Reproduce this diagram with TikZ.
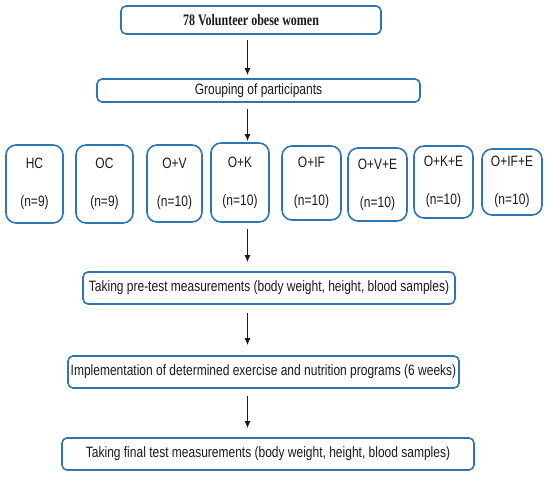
\documentclass[tikz,border=0pt]{standalone}
\usepackage{fontspec}
\setmainfont[FakeStretch=0.8]{Liberation Sans}
\newfontfamily\headfont{Liberation Serif}
\usetikzlibrary{arrows.meta}
\definecolor{boxblue}{HTML}{2E75B6}
\definecolor{inkgray}{HTML}{1A1A1A}
\tikzstyle{flow chart}=[
    x=1pt,y=-1pt,
    >={Latex[length=7pt,width=6pt]},
    every node/.style={
        align=center,
        text=inkgray,
        font=\fontsize{15}{17}\selectfont,
    },
    stagebox/.style={
        draw=boxblue, line width=1.6pt, rounded corners=5pt, inner sep=0pt,
    },
    groupbox/.style={
        draw=boxblue, line width=1.6pt, rounded corners=10pt, inner sep=0pt,
    },
    flow/.style={->, draw=inkgray, line width=1.2pt},
]
\newcommand{\grouplabel}[2]{#1\\[21pt]#2}
\newcommand{\narrowtitle}[1]{\scalebox{0.75}[1]{#1}}

\begin{document}
\begin{tikzpicture}[flow chart]
        \useasboundingbox (0,0) rectangle (550,477);
        \coordinate (axis) at (247.5,0);

        \node[stagebox, minimum width=260pt, minimum height=28pt,
              font=\headfont\bfseries\fontsize{16}{18}\selectfont] (vol) at (251,20) {\narrowtitle{78 Volunteer obese women}};
        \node[stagebox, minimum width=323pt, minimum height=23pt] (grouping) at (258.5,90.5) {Grouping of participants};

        % groups
        \foreach \name/\lab/\n/\cx/\cy/\w/\h in {
            hc/HC/9/34.5/184/57/78,
            oc/OC/9/104.5/184/57/78,
            ov/O+V/10/174.5/183.5/55/77,
            ok/O+K/10/240/182.5/58/79,
            oif/O+IF/10/311.5/183/59/74,
            ove/O+V+E/10/377.5/184.5/59/73,
            oke/O+K+E/10/443.5/182/59/72,
            oife/O+IF+E/10/512/182/60/66}
            \node[groupbox, minimum width=\w pt, minimum height=\h pt] (\name) at (\cx,\cy) {\grouplabel{\lab}{(n=\n)}};

        \node[stagebox, minimum width=372pt, minimum height=32pt] (pretest) at (269,288)
            {Taking pre-test measurements (body weight, height, blood samples)};
        \node[stagebox, minimum width=391pt, minimum height=32pt] (program) at (263.5,372)
            {Implementation of determined exercise and nutrition programs (6 weeks)};
        \node[stagebox, minimum width=412pt, minimum height=32pt] (final) at (268,454)
            {Taking final test measurements (body weight, height, blood samples)};

        \draw[flow, shorten <=5pt, shorten >=3pt] (vol.south -| axis) -- (grouping.north -| axis);
        \draw[flow, shorten <=6pt, shorten >=1pt] (grouping.south -| axis) -- (ok.north -| axis);
        \draw[flow, shorten <=6pt, shorten >=9pt] (ok.south -| axis) -- (pretest.north -| axis);
        \draw[flow, shorten <=8pt, shorten >=10pt] (pretest.south -| axis) -- (program.north -| axis);
        \draw[flow, shorten <=7pt, shorten >=9pt] (program.south -| axis) -- (final.north -| axis);
    \end{tikzpicture}
\end{document}
